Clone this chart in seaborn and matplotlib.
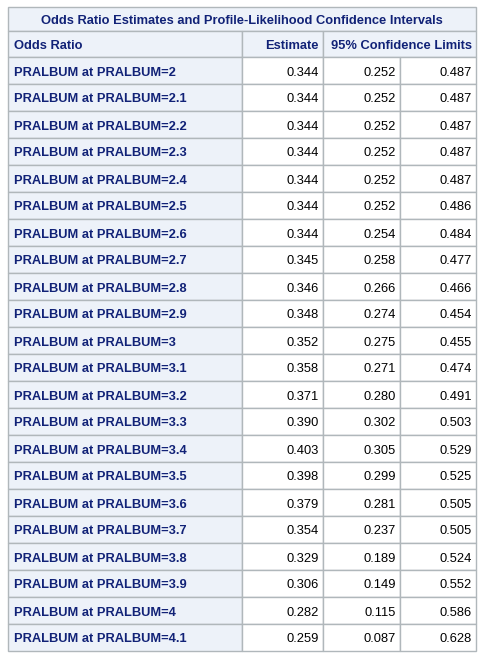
import matplotlib
matplotlib.use("Agg")
import matplotlib.pyplot as plt
import seaborn as sns

sns.set_theme(style="white")
plt.rcParams['font.family'] = ['Liberation Sans', 'DejaVu Sans']

title = "Odds Ratio Estimates and Profile-Likelihood Confidence Intervals"
headers = ["Odds Ratio", "Estimate", "95% Confidence Limits"]
levels = ["2", "2.1", "2.2", "2.3", "2.4", "2.5", "2.6", "2.7", "2.8", "2.9", "3",
          "3.1", "3.2", "3.3", "3.4", "3.5", "3.6", "3.7", "3.8", "3.9", "4", "4.1"]
labels = ["PRALBUM at PRALBUM=" + v for v in levels]
estimate = [0.344, 0.344, 0.344, 0.344, 0.344, 0.344, 0.344, 0.345, 0.346, 0.348, 0.352,
            0.358, 0.371, 0.390, 0.403, 0.398, 0.379, 0.354, 0.329, 0.306, 0.282, 0.259]
lower = [0.252, 0.252, 0.252, 0.252, 0.252, 0.252, 0.254, 0.258, 0.266, 0.274, 0.275,
         0.271, 0.280, 0.302, 0.305, 0.299, 0.281, 0.237, 0.189, 0.149, 0.115, 0.087]
upper = [0.487, 0.487, 0.487, 0.487, 0.487, 0.486, 0.484, 0.477, 0.466, 0.454, 0.455,
         0.474, 0.491, 0.503, 0.529, 0.525, 0.505, 0.505, 0.524, 0.552, 0.586, 0.628]

W, H = 492, 653
fig = plt.figure(figsize=(W / 100, H / 100), dpi=100)
ax = fig.add_axes([0, 0, 1, 1])
ax.set_xlim(0, W)
ax.set_ylim(H, 0)
ax.axis("off")

hdr_bg = "#edf2f9"
border = "#b0b7bb"
txt = "#112277"
cols = [8, 242, 323, 400, 476]
y_title, y_head, y0, rh = 7, 31, 57, 27
fs = 9.3
dy = 2  # nudge text down to the visual centre


def cell(x0, x1, y, h, bg):
    ax.add_patch(plt.Rectangle((x0, y), x1 - x0, h, facecolor=bg, edgecolor=border, lw=1))


# title row
cell(cols[0], cols[-1], y_title, y_head - y_title, hdr_bg)
ax.text((cols[0] + cols[-1]) / 2, (y_title + y_head) / 2 + dy, title, ha="center", va="center",
        color=txt, fontsize=fs, fontweight="bold")
# header row
cell(cols[0], cols[1], y_head, y0 - y_head, hdr_bg)
cell(cols[1], cols[2], y_head, y0 - y_head, hdr_bg)
cell(cols[2], cols[4], y_head, y0 - y_head, hdr_bg)
yc = (y_head + y0) / 2 + dy
ax.text(cols[0] + 6, yc, headers[0], ha="left", va="center", color=txt, fontsize=fs, fontweight="bold")
ax.text(cols[2] - 4, yc, headers[1], ha="right", va="center", color=txt, fontsize=fs, fontweight="bold")
ax.text(cols[4] - 4, yc, headers[2], ha="right", va="center", color=txt, fontsize=fs, fontweight="bold")

for i, lab in enumerate(labels):
    y = y0 + i * rh
    yc = y + rh / 2 + dy
    cell(cols[0], cols[1], y, rh, hdr_bg)
    for j in range(1, 4):
        cell(cols[j], cols[j + 1], y, rh, "white")
    ax.text(cols[0] + 6, yc, lab, ha="left", va="center", color=txt, fontsize=fs, fontweight="bold")
    for j, v in enumerate([estimate[i], lower[i], upper[i]]):
        ax.text(cols[j + 2] - 4, yc, f"{v:.3f}", ha="right", va="center", color="black", fontsize=fs)

fig.savefig("out.png", dpi=100, facecolor="white")
